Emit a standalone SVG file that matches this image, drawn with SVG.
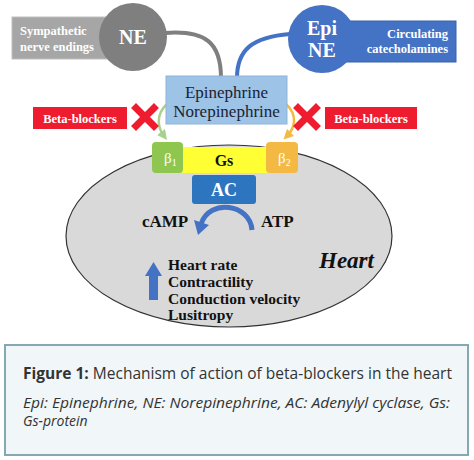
<svg xmlns="http://www.w3.org/2000/svg" width="474" height="460" viewBox="0 0 474 460">
<defs>
<style>
.serif{font-family:"Liberation Serif","Times New Roman",serif;}
.wb{fill:#fff;font-weight:bold;}
.bk{fill:#111;font-weight:bold;}
.cap{font-family:"Open Sans","Liberation Sans",sans-serif;fill:#333;}
</style>
<marker id="ahG" viewBox="0 0 10 10" refX="5" refY="5" markerWidth="4" markerHeight="4" orient="auto"><path d="M0,0 L10,5 L0,10 z" fill="#a9d18e"/></marker>
<marker id="ahO" viewBox="0 0 10 10" refX="5" refY="5" markerWidth="4" markerHeight="4" orient="auto"><path d="M0,0 L10,5 L0,10 z" fill="#f4b942"/></marker>
<g id="xmark"><path d="M-9,-9 L9,9 M9,-9 L-9,9" stroke="#ee1c2e" stroke-width="7" stroke-linecap="square"/></g>
</defs>
<rect width="474" height="460" fill="#fff"/>

<g id="heart">
<ellipse cx="229" cy="236" rx="163" ry="91" fill="#d9d9d9" stroke="#333" stroke-width="1.2"/>
<text class="serif bk" x="319" y="268" font-size="23" font-style="italic">Heart</text>
</g>

<g id="connectors">
<path d="M165,33 C205,30 221,42 221,78" fill="none" stroke="#7f7f7f" stroke-width="4"/>
<path d="M290,34 C252,37 237,50 237,78" fill="none" stroke="#4472c4" stroke-width="4"/>
<path d="M167,104 C155,115 158,128 164,136" fill="none" stroke="#a9d18e" stroke-width="2.5" marker-end="url(#ahG)"/>
<path d="M286,104 C298,115 295,128 287,136" fill="none" stroke="#f4b942" stroke-width="2.5" marker-end="url(#ahO)"/>
</g>

<g id="sympathetic">
<rect x="12" y="17" width="100" height="42" fill="#a6a6a6" stroke="#bfbfbf"/>
<text class="serif wb" x="20" y="35" font-size="12.5">Sympathetic</text>
<text class="serif wb" x="20" y="51" font-size="12.5">nerve endings</text>
</g>
<g id="ne">
<circle cx="133" cy="37" r="34" fill="#7f7f7f"/>
<text class="serif wb" x="133" y="44" font-size="20" text-anchor="middle">NE</text>
</g>

<g id="circulating">
<rect x="340" y="21" width="116" height="41" fill="#4472c4" stroke="#3a62aa"/>
<text class="serif wb" x="448" y="38" font-size="12.5" text-anchor="end">Circulating</text>
<text class="serif wb" x="448" y="53" font-size="12.5" text-anchor="end">catecholamines</text>
</g>
<g id="epi-ne">
<circle cx="322" cy="39" r="34" fill="#4472c4"/>
<text class="serif wb" x="322" y="35" font-size="20" text-anchor="middle">Epi</text>
<text class="serif wb" x="322" y="57" font-size="20" text-anchor="middle">NE</text>
</g>

<g id="catecholamine-box">
<rect x="166" y="76" width="121" height="48" fill="#9dc3e6" stroke="#8fb4d9"/>
<text class="serif" x="226.5" y="98" font-size="17" text-anchor="middle" fill="#1a2233">Epinephrine</text>
<text class="serif" x="226.5" y="117" font-size="17" text-anchor="middle" fill="#1a2233">Norepinephrine</text>
</g>

<g id="bb-left">
<rect x="33" y="107" width="94" height="22" fill="#ee1c2e"/>
<text class="serif wb" x="80" y="122.5" font-size="12.5" text-anchor="middle">Beta-blockers</text>
<use href="#xmark" x="145" y="117"/>
</g>
<g id="bb-right">
<rect x="325" y="107" width="92" height="22" fill="#ee1c2e"/>
<text class="serif wb" x="371" y="122.5" font-size="12.5" text-anchor="middle">Beta-blockers</text>
<use href="#xmark" x="307" y="117"/>
</g>

<g id="gs">
<rect x="182" y="147" width="85" height="26" fill="#ffff33"/>
<text class="serif bk" x="224" y="166" font-size="16" text-anchor="middle">Gs</text>
</g>
<g id="beta1">
<rect x="152" y="142" width="31" height="31" rx="4" fill="#8fc650"/>
<text class="serif" x="164" y="163" font-size="15" fill="#fff">β<tspan font-size="10" dy="3">1</tspan></text>
</g>
<g id="beta2">
<rect x="266" y="142" width="32" height="31" rx="4" fill="#f4b942"/>
<text class="serif" x="278" y="163" font-size="15" fill="#fff">β<tspan font-size="10" dy="3">2</tspan></text>
</g>
<g id="ac">
<rect x="192" y="175" width="64" height="29" rx="3" fill="#2e75c0"/>
<text class="serif wb" x="224" y="196" font-size="18" text-anchor="middle">AC</text>
</g>

<g id="camp-cycle">
<path d="M252,230 C250,204 210,198 201,224" fill="none" stroke="#4472c4" stroke-width="5"/>
<path d="M194,220 L209,225 L198,235 z" fill="#4472c4"/>
<text class="serif bk" x="142" y="227" font-size="17">cAMP</text>
<text class="serif bk" x="261" y="227" font-size="17">ATP</text>
</g>

<g id="effects">
<path d="M149,300 L149,276 L145,276 L153.5,262 L162,276 L158,276 L158,300 z" fill="#4472c4"/>
<text class="serif bk" x="168" y="270" font-size="15.5">Heart rate</text>
<text class="serif bk" x="168" y="287" font-size="15.5">Contractility</text>
<text class="serif bk" x="168" y="304" font-size="15.5">Conduction velocity</text>
<text class="serif bk" x="168" y="320" font-size="15.5">Lusitropy</text>
</g>

<g id="caption">
<rect x="5" y="345" width="463" height="110" fill="#f1f6f8" stroke="#86a9b1" stroke-width="2"/>
<text class="cap" x="23" y="379" font-size="16" textLength="429" lengthAdjust="spacingAndGlyphs"><tspan font-weight="bold">Figure 1:</tspan> Mechanism of action of beta-blockers in the heart</text>
<text class="cap" x="23" y="408" font-size="14" font-style="italic" textLength="427" lengthAdjust="spacingAndGlyphs">Epi: Epinephrine, NE: Norepinephrine, AC: Adenylyl cyclase, Gs:</text>
<text class="cap" x="23" y="426" font-size="14" font-style="italic">Gs-protein</text>
</g>
</svg>
